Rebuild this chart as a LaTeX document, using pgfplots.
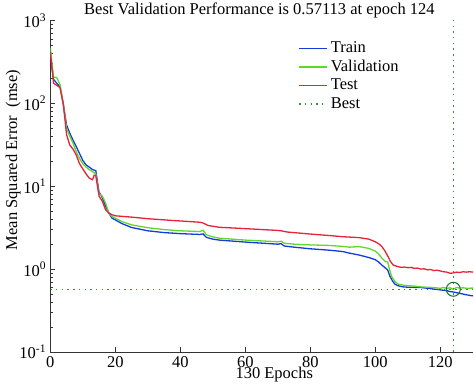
\documentclass[border=0pt]{standalone}
\usepackage{pgfplots}
\pgfplotsset{compat=1.18}
\usepackage{fontspec}
\setmainfont{Liberation Serif}
\newcommand{\ff}{\fontsize{16.5}{19}\selectfont}
\definecolor{trainc}{RGB}{20,60,220}
\definecolor{valc}{RGB}{95,215,45}
\definecolor{testc}{RGB}{230,35,55}
\definecolor{bestc}{RGB}{40,150,40}
\definecolor{circc}{RGB}{25,110,40}

\pgfplotstableread{
e v
0 380
1 195
2 175
3 158
4 98
5 55
6 43.6
7 36
8 30
9 24.8
10 20.5
11 18.1
12 17
13 15.9
14 15.4
15 8.5
16 7.3
17 5.74
18 4.75
19 4.12
20 3.93
22 3.55
25 3.18
30 2.9
35 2.76
40 2.68
46 2.62
47 2.66
48 2.42
50 2.3
52 2.24
60 2.12
70 2.0
71 2.03
72 1.9
75 1.84
80 1.76
86 1.69
90 1.63
92 1.56
95 1.48
98 1.38
100 1.3
101 1.22
102 1.12
103 1.04
103.8 0.98
104.5 0.82
105.3 0.72
106 0.66
107 0.63
108.6 0.61
110 0.605
114 0.6
118 0.575
120 0.562
122 0.55
123 0.535
124 0.53
126 0.51
128 0.49
130 0.475
}\traintab

\pgfplotstableread{
e v
0 470
1 208
2 205
3 168
4 98
5 50
6 40
7 33
8 26
9 21.6
10 18.7
11 17
12 15.9
13 15
14 14.1
15 8.0
16 7.6
17 6.3
18 4.75
19 4.32
20 4.12
22 3.75
25 3.42
30 3.16
35 3.0
40 2.9
46 2.84
47 2.95
48 2.6
50 2.45
52 2.36
60 2.24
70 2.14
71 2.17
72 2.05
75 2.0
80 1.96
86 1.93
90 1.88
92 1.84
95 1.87
98 1.78
100 1.65
101 1.52
102 1.36
103 1.24
103.8 1.22
104.4 0.98
105 0.82
106 0.71
107 0.66
108.6 0.64
110 0.63
112 0.625
114 0.61
116 0.605
118 0.6
120 0.587
121 0.6
122 0.585
123 0.595
124 0.571
125 0.6
126 0.59
127 0.595
128 0.588
130 0.59
}\valtab

\pgfplotstableread{
e v
0 420
1 175
2 165
3 155
4 98
5 42
6 31.4
7 28
8 23.7
9 18.7
10 16.2
11 14.1
12 12.5
13 12.0
13.5 13.6
14 13.4
15 7.6
16 6.6
17 5.2
18 4.75
19 4.53
20 4.4
25 4.24
30 4.06
37 3.88
46 3.68
47 3.6
48.6 3.36
52 3.2
60 3.08
70 2.93
71 2.9
73 2.8
80 2.65
86 2.54
90 2.46
95 2.4
98 2.3
100 2.14
101 2.03
102 1.88
103 1.65
104 1.4
104.6 1.25
105.5 1.12
107 1.07
108 1.05
109 1.06
110 1.04
111 1.05
112 1.02
113 1.03
114 1.0
115 1.01
116 0.98
117 0.99
118 0.96
119 0.97
120 0.95
121 0.93
122 0.92
123 0.89
124 0.9
125 0.92
126 0.91
127 0.93
128 0.92
129 0.93
130 0.92
}\testtab

\begin{document}
\begin{tikzpicture}
\begin{axis}[
  scale only axis, width=422.5pt, height=331.5pt,
  ymode=log, log basis y=10,
  xmin=0, xmax=130, ymin=0.1, ymax=1000,
  axis lines=left,
  axis line style={-, line width=0.8pt, black!80},
  tick style={line width=0.7pt, black!80},
  tick align=inside,
  major tick length=5pt, minor tick length=3pt,
  xtick={0,20,...,120},
  ytick={0.1,1,10,100,1000},
  yticklabels={10\textsuperscript{-1},10\textsuperscript{0},10\textsuperscript{1},10\textsuperscript{2},10\textsuperscript{3}},
  minor ytick={0.2,0.3,0.4,0.5,0.6,0.7,0.8,0.9,2,3,4,5,6,7,8,9,20,30,40,50,60,70,80,90,200,300,400,500,600,700,800,900},
  /pgf/number format/assume math mode=true,
  tick label style={font=\ff},
  xticklabel style={anchor=base, yshift=-15.7pt, inner sep=0pt},
  yticklabel style={anchor=east, inner sep=0pt, xshift=-4pt},
  title={Best Validation Performance is 0.57113 at epoch 124},
  title style={at={(axis description cs:0.495,0.9985)}, anchor=base, inner sep=0pt, font=\ff},
  xlabel={130 Epochs},
  xlabel style={at={(axis description cs:0.53,-0.079)}, anchor=base, inner sep=0pt, font=\ff},
  ylabel={Mean Squared Error~~(mse)},
  ylabel style={at={(axis description cs:-0.0788,0.579)}, anchor=base, inner sep=0pt, font=\ff},
  legend style={draw=none, fill=none, at={(0.587,0.939)}, anchor=north west,
    inner sep=0pt, row sep=3.5pt, column sep=3pt,
    nodes={inner sep=0pt, text height=12pt, text depth=3pt}, font=\ff},
  legend cell align=left,
  legend image code/.code={\draw[#1] (0pt,0pt) -- (28pt,0pt);},
  clip=true,
]
\addplot[trainc, line width=1.3pt] table[x=e,y=v] {\traintab};
\addlegendentry{Train}
\addplot[valc, line width=1.3pt] table[x=e,y=v] {\valtab};
\addlegendentry{Validation}
\addplot[testc, line width=1.3pt] table[x=e,y=v] {\testtab};
\addlegendentry{Test}
\addplot[bestc, line width=1.3pt, dash pattern=on 1.5pt off 4.2pt] coordinates {(0,0.57113) (130,0.57113)};
\addlegendentry{Best}
\addplot[bestc, line width=1.3pt, dash pattern=on 1.5pt off 4.2pt, forget plot] coordinates {(124,0.1) (124,1000)};
\addplot[circc, only marks, mark=o, mark size=7pt, mark options={line width=1pt}, forget plot] coordinates {(124,0.57113)};
\end{axis}
\pgfresetboundingbox
\path (current axis.south west) ++(-50.3pt,-35pt) rectangle ++(474pt,387pt);
\end{tikzpicture}
\end{document}
